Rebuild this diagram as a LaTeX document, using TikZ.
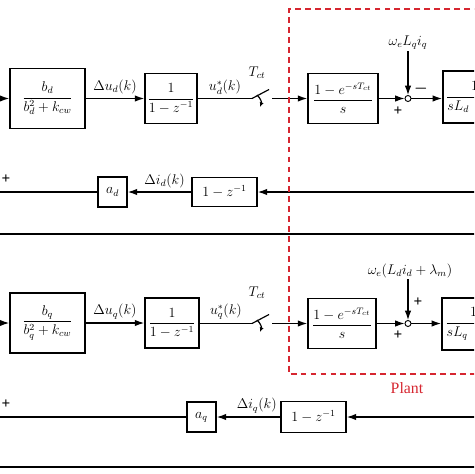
\RequirePackage{fix-cm}
\documentclass[tikz,border=0pt]{standalone}
\usepackage{amsmath}
\usepackage[no-math]{fontspec}
\setmainfont{Liberation Serif}
\usetikzlibrary{arrows.meta,positioning}
\definecolor{plantred}{RGB}{214,38,48}

\begin{document}
\begin{tikzpicture}[
  x=0.03cm, y=-0.03cm,
  font=\fontsize{12}{14}\selectfont,
  blk/.style={draw, line width=1.4pt, align=center, inner sep=1pt},
  sumpt/.style={draw, circle, line width=0.8pt, minimum size=0.18cm, inner sep=0pt, fill=white},
  sig/.style={line width=1pt},
  lab/.style={inner sep=1pt},
  sgn/.style={font=\bfseries\fontsize{13}{15}\selectfont, inner sep=0pt},
  plant/.style={draw=plantred, line width=1.1pt, dash pattern=on 5pt off 3.5pt},
  >={Latex[length=8pt,width=5.5pt]}
]
\clip (0,0) rectangle (474,474);

\node[blk, minimum width=2.25cm, minimum height=1.8cm] (bd) at (47.5,98.5) {$\dfrac{b_d}{b_d^2+k_{cw}}$};
\node[blk, minimum width=1.56cm, minimum height=1.5cm] (intd) at (171,98.5) {$\dfrac{1}{1-z^{-1}}$};
\node[blk, minimum width=2.1cm, minimum height=1.5cm] (zohd) at (343,98.5) {$\dfrac{1-e^{-sT_{ct}}}{s}$};
\node[sumpt] (sumd) at (408,98.5) {};
\node[blk, minimum width=1.9cm, minimum height=1.56cm, anchor=west] (Ld) at (442,97) {$\dfrac{1}{sL_d\hphantom{{}+R_s}}$};
\node[lab] (wdq) at (408,43) {$\omega_e L_q i_q$};
\node[lab] (tsd) at (257,73) {$T_{ct}$};
\coordinate (ind) at (-2,98.5);
\coordinate (swd) at (252,98.5);
\coordinate (swdo) at (272,98.5);

\draw[sig,->] (ind) -- (bd);
\draw[sig,->] (bd) -- node[lab, above=2pt] {$\Delta u_d(k)$} (intd);
\draw[sig] (intd) -- node[lab, above=2pt] {$u_d^*(k)$} (swd);
\draw[sig] (swd) -- ++(17,-9);
\draw[sig, -{Latex[length=4pt,width=3.5pt]}] (257,95) to[bend left=35] (260,107);
\draw[sig,->] (swdo) -- (zohd);
\draw[sig,->] (zohd) -- (sumd);
\draw[sig,->] (sumd) -- (sumd -| Ld.west);
\draw[sig,->] (wdq) -- (sumd);
\node[sgn] (pd1) at (398,111) {+};
\node[sgn] (md1) at (421,89) {$\boldsymbol{-}$};

\node[blk, minimum width=1.95cm, minimum height=0.88cm] (dzd) at (224.5,192) {$1-z^{-1}$};
\node[blk, minimum width=0.87cm, minimum height=0.9cm] (ad) at (112.5,192) {$a_d$};
\coordinate (fbd) at (480,192);
\coordinate (fod) at (-2,192);
\draw[sig,->] (fbd) -- (dzd);
\draw[sig,->] (dzd) -- node[lab, above=2pt, pos=0.42] {$\Delta i_d(k)$} (ad);
\draw[sig] (ad) -- (fod);
\node[sgn] (pd2) at (6,179) {+};

\draw[line width=1.2pt] (-2,234) -- (480,234);

\node[blk, minimum width=2.25cm, minimum height=1.8cm] (bq) at (47.5,323) {$\dfrac{b_q}{b_q^2+k_{cw}}$};
\node[blk, minimum width=1.62cm, minimum height=1.5cm] (intq) at (172,323) {$\dfrac{1}{1-z^{-1}}$};
\node[blk, minimum width=2.04cm, minimum height=1.5cm] (zohq) at (342,323.5) {$\dfrac{1-e^{-sT_{ct}}}{s}$};
\node[sumpt] (sumq) at (408,323.5) {};
\node[blk, minimum width=1.9cm, minimum height=1.56cm, anchor=west] (Lq) at (441,324) {$\dfrac{1}{sL_q\hphantom{{}+R_s}}$};
\node[lab] (wdd) at (410,271) {$\omega_e(L_d i_d+\lambda_m)$};
\node[lab] (tsq) at (257,293) {$T_{ct}$};
\coordinate (inq) at (-2,323);
\coordinate (swq) at (252,323.5);
\coordinate (swqo) at (272,323.5);

\draw[sig,->] (inq) -- (bq);
\draw[sig,->] (bq) -- node[lab, above=2pt] {$\Delta u_q(k)$} (intq);
\draw[sig] (intq.east |- swq) -- node[lab, above=2pt] {$u_q^*(k)$} (swq);
\draw[sig] (swq) -- ++(17,-9);
\draw[sig, -{Latex[length=4pt,width=3.5pt]}] (257,320) to[bend left=35] (260,332);
\draw[sig,->] (swqo) -- (zohq);
\draw[sig,->] (zohq) -- (sumq);
\draw[sig,->] (sumq) -- (sumq -| Lq.west);
\draw[sig,->] (wdd.south -| sumq) -- (sumq);
\node[sgn] (pq1) at (398,335) {+};
\node[sgn] (pq3) at (418,302) {+};

\node[blk, minimum width=1.95cm, minimum height=0.93cm] (dzq) at (313.5,417) {$1-z^{-1}$};
\node[blk, minimum width=0.87cm, minimum height=0.9cm] (aq) at (201.5,417) {$a_q$};
\coordinate (fbq) at (480,417);
\coordinate (foq) at (-2,417);
\draw[sig,->] (fbq) -- (dzq);
\draw[sig,->] (dzq) -- node[lab, above=2pt, pos=0.37] {$\Delta i_q(k)$} (aq);
\draw[sig] (aq) -- (foq);
\node[sgn] (pq2) at (6,404) {+};

\draw[line width=1.2pt] (-2,467) -- (480,467);

\draw[plant] (480,9) -- (289,9) -- (289,374) -- (480,374);
\node[lab, text=plantred, font=\fontsize{13.5}{16}\selectfont] (plantlab) at (407,388) {Plant};
\end{tikzpicture}
\end{document}
